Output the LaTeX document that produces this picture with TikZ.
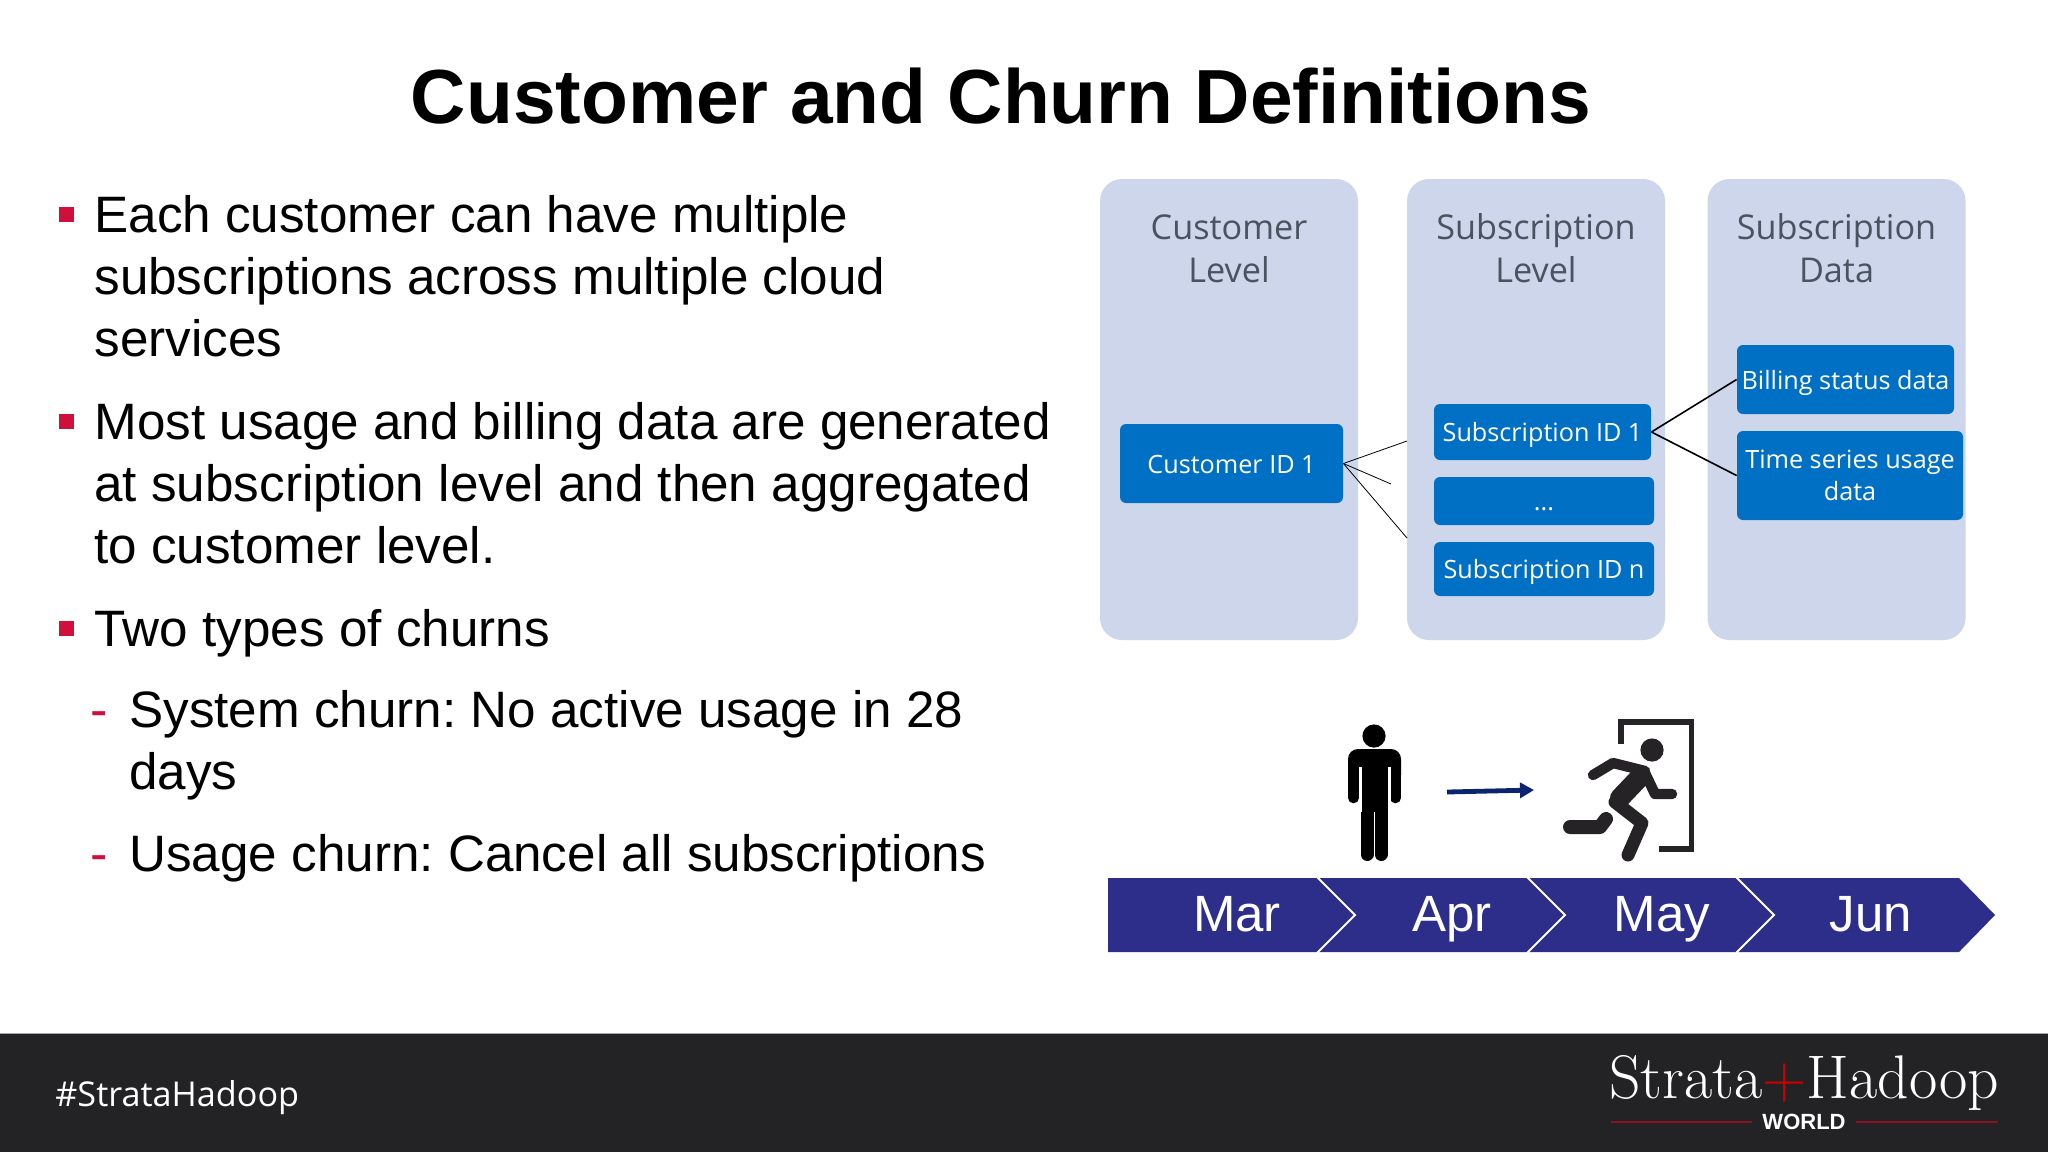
\documentclass[tikz,border=0pt]{standalone}
\usepackage{fontspec}
\setmainfont{Liberation Sans}
\newfontfamily\panelfont{Open Sans}
\newfontfamily\logofont{Latin Modern Roman}
\usetikzlibrary{arrows.meta}
\definecolor{panelblue}{HTML}{CDD6EB}
\definecolor{boxblue}{HTML}{0070C4}
\definecolor{headgray}{HTML}{4A5360}
\definecolor{monthblue}{HTML}{2D2E8A}
\definecolor{footdark}{HTML}{232225}
\definecolor{bulletred}{HTML}{D0103A}
\definecolor{logored}{HTML}{8A1228}
\definecolor{arrownavy}{HTML}{0B2470}
\definecolor{runnerdark}{HTML}{252325}
\begin{document}
\begin{tikzpicture}[x=.5pt,y=-.5pt,
	panel/.style={fill=panelblue,rounded corners=11pt,minimum width=129pt,minimum height=230.5pt,inner sep=0pt},
	paneltitle/.style={font=\panelfont\fontsize{17.1}{21.5}\selectfont,text=headgray,align=center,inner sep=0pt},
	idbox/.style={fill=boxblue,rounded corners=3pt,text=white,font=\panelfont\fontsize{12.6}{16}\selectfont,align=center,inner sep=0pt},
	oneline/.style={text height=9.5pt,text depth=0pt},
	bodytext/.style={anchor=north west,align=left,inner sep=0pt,font=\frenchspacing\fontsize{25.6}{31}\selectfont},
	bulletbox/.style={fill=bulletred,minimum size=7.5pt,inner sep=0pt},
	monthlabel/.style={text=white,inner sep=0pt,font=\fontsize{25.5}{30}\selectfont}]
	\useasboundingbox (0,0) rectangle (2048,1152);
	\fill[white] (0,0) rectangle (2048,1152);
	\fill[footdark] (0,1033) rectangle (2048,1152);
	\draw[gray!70,line width=.5pt] (0,1033)--(2048,1033);
	\node[anchor=base,inner sep=0pt,font=\bfseries\fontsize{38.35}{44}\selectfont] (slidetitle) at (1001,123) {Customer and Churn Definitions};
	\node[bulletbox] (bulletone) at (66.5,214) {};
	\node[bulletbox] (bullettwo) at (66.5,421) {};
	\node[bulletbox] (bulletthree) at (66.5,628) {};
	\node[bodytext] (itemone) at (94,189) {\strut Each customer can have multiple\\subscriptions across multiple cloud\\services};
	\node[bodytext] (itemtwo) at (94,396) {\strut Most usage and billing data are generated\\at subscription level and then aggregated\\to customer level.};
	\node[bodytext] (itemthree) at (94,603) {\strut Two types of churns};
	\node[anchor=base,text=bulletred,inner sep=0pt,font=\fontsize{26}{31}\selectfont] (dashone) at (99,727) {-};
	\node[anchor=base,text=bulletred,inner sep=0pt,font=\fontsize{26}{31}\selectfont] (dashtwo) at (99,871) {-};
	\node[bodytext] (subitemone) at (129,684) {\strut System churn: No active usage in 28\\days};
	\node[bodytext] (subitemtwo) at (129,828) {\strut Usage churn: Cancel all subscriptions};
	\node[panel] (customerpanel) at (1229,409.5) {};
	\node[panel] (subpanel) at (1536,409.5) {};
	\node[panel] (datapanel) at (1836.5,409.5) {};
	\node[paneltitle] (customertitle) at (1229,248.5) {Customer\\Level};
	\node[paneltitle] (subtitle) at (1536,248.5) {Subscription\\Level};
	\node[paneltitle] (datatitle) at (1836.5,248.5) {Subscription\\Data};
	\node[idbox,oneline,minimum width=111.5pt,minimum height=39.5pt] (customerid) at (1231.5,463.5) {Customer ID 1};
	\node[idbox,oneline,minimum width=108.5pt,minimum height=28pt] (subidone) at (1542.5,432) {Subscription ID 1};
	\node[idbox,oneline,minimum width=110pt,minimum height=24pt] (subiddots) at (1544,501) {...};
	\node[idbox,oneline,minimum width=110pt,minimum height=27pt] (subidn) at (1544,569) {Subscription ID n};
	\node[idbox,oneline,minimum width=108.5pt,minimum height=34.5pt] (billing) at (1845.5,379.5) {Billing status data};
	\node[idbox,minimum width=113pt,minimum height=44.5pt] (timeusage) at (1850,475.5) {Time series usage\\data};
	\coordinate (fanone) at (1407,441);
	\coordinate (fantwo) at (1391,484);
	\coordinate (fanthree) at (1407,538);
	\draw[black,line width=.4pt] (customerid.east)--(fanone);
	\draw[black,line width=.4pt] (customerid.east)--(fantwo);
	\draw[black,line width=.4pt] (customerid.east)--(fanthree);
	\draw[black,line width=.8pt] (subidone.east)--(billing.west);
	\draw[black,line width=.8pt] (subidone.east)--(timeusage.west);
	\fill[monthblue] (1108,878)--(1959,878)--(1995,915)--(1959,952)--(1108,952)--cycle;
	\foreach \x in {1317,1527,1736}
		\draw[white,line width=1pt] (\x,877)--(\x+38,915)--(\x,953);
	\foreach \m/\x in {Mar/1237,Apr/1452,May/1662,Jun/1871}
		\node[monthlabel] (\m) at (\x,919) {\strut\m};
	\fill[black] (1374,736) circle (5.8pt);
	\fill[black,rounded corners=5pt] (1348,785)--(1348,749)--(1401,749)--(1401,785)--cycle;
	\draw[black,line width=5.3pt,line cap=round] (1353.5,765)--(1353.5,798);
	\draw[black,line width=5.3pt,line cap=round] (1395.5,765)--(1395.5,798);
	\fill[black] (1362,760) rectangle (1388,812);
	\draw[black,line width=6.5pt,line cap=round] (1367,805)--(1367,854.5);
	\draw[black,line width=6.5pt,line cap=round] (1381,805)--(1381,854.5);
	\fill[white] (1359,767) rectangle (1361.6,812);
	\fill[white] (1388,767) rectangle (1390.6,812);
	\coordinate (arrowstart) at (1447,792);
	\coordinate (arrowend) at (1534,790);
	\draw[arrownavy,line width=2.4pt,-{Triangle[length=7pt,width=7.5pt]}] (arrowstart)--(arrowend);
	\draw[runnerdark,line width=2.7pt] (1621,744)--(1621,722)--(1691.5,722)--(1691.5,849)--(1659,849);
	\fill[runnerdark] (1652,750) circle (5.8pt);
	\draw[runnerdark,line width=7pt,line cap=round,line join=round] (1570,827)--(1600,827)--(1606,819);
	\draw[white,line width=10pt] (1615,804)--(1642,823);
	\draw[runnerdark,line width=5.2pt,line cap=round,line join=round] (1593,775)--(1613,763)--(1645,771);
	\draw[runnerdark,line width=5.2pt,line cap=round,line join=round] (1645,773)--(1655,794)--(1672,794);
	\draw[runnerdark,line width=10pt,line cap=round] (1640,777)--(1620,798);
	\draw[runnerdark,line width=6.5pt,line cap=round,line join=round] (1615,802)--(1642,823)--(1628,855);
	\node[anchor=base west,text=white,inner sep=0pt,font=\panelfont\fontsize{17.1}{21}\selectfont] (hashtag) at (55,1106) {\#StrataHadoop};
	\node[anchor=base,text=white,inner sep=0pt,font=\logofont\fontsize{30.8}{36}\selectfont] (logoname) at (1804,1098) {Strata{\color{red!80!black}+}Hadoop};
	\node[text=white,inner sep=0pt,font=\bfseries\fontsize{11}{12}\selectfont] (logoworld) at (1804,1122) {WORLD};
	\coordinate (ruleleft) at (1611,1122);
	\coordinate (ruleleftend) at (1752,1122);
	\coordinate (ruleright) at (1998,1122);
	\coordinate (rulerightend) at (1856,1122);
	\draw[logored,line width=1pt] (ruleleft)--(ruleleftend);
	\draw[logored,line width=1pt] (ruleright)--(rulerightend);
\end{tikzpicture}
\end{document}
